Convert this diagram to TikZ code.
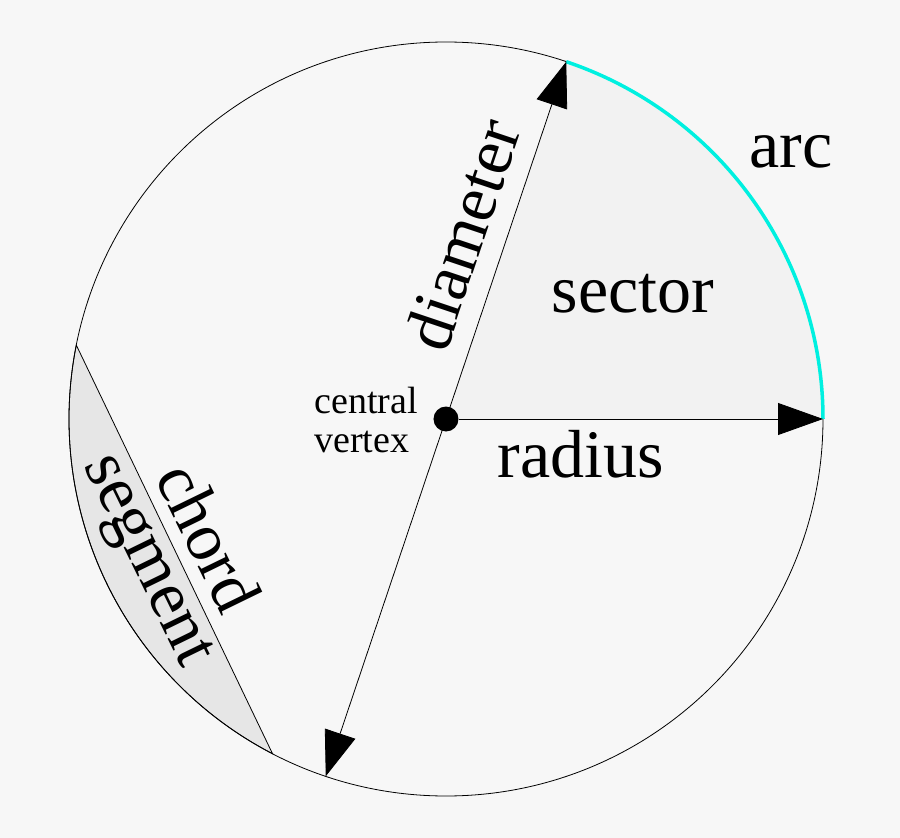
\documentclass[tikz,border=0pt]{standalone}
\usepackage{fontspec}
\setmainfont{Liberation Serif}
\usetikzlibrary{arrows.meta}
\definecolor{bggray}{HTML}{F7F7F7}
\definecolor{sectorgray}{HTML}{F2F2F2}
\definecolor{segmentgray}{HTML}{E6E6E6}
\definecolor{arccyan}{HTML}{00F0E0}
\tikzset{
    biglabel/.style={font=\fontsize{68}{80}\selectfont,inner sep=0pt},
    smalllabel/.style={font=\fontsize{38}{39}\selectfont,align=left},
    bigtip/.tip={Triangle[length=45pt,width=32pt]}
}
\begin{document}
\begin{tikzpicture}[x=1pt,y=1pt]
    \fill[bggray] (-446,-419) rectangle (454,419);
    \useasboundingbox (-446,-419) rectangle (454,419);
    \coordinate (O) at (0,0);
    \coordinate (R) at (0:377);
    \coordinate (D1) at (71.4:377);
    \coordinate (D2) at (251.4:377);
    \coordinate (C1) at (168.7:377);
    \coordinate (C2) at (242.6:377);
    \fill[sectorgray] (O) -- (R) arc[start angle=0,end angle=71.4,radius=377] -- cycle;
    \filldraw[fill=segmentgray,line width=0.8pt] (C1) arc[start angle=168.7,end angle=242.6,radius=377] -- cycle;
    \draw[line width=0.8pt] (O) circle[radius=377];
    \draw[arccyan,line width=3.5pt] (R) arc[start angle=0,end angle=71.4,radius=377];
    \node[circle,fill=black,inner sep=0pt,minimum size=25pt] (dot) at (O) {};
    \draw[line width=0.8pt,bigtip-bigtip] (D2) -- (D1);
    \draw[line width=0.8pt,-bigtip] (dot) -- (R);
    \node[biglabel] (arc) at (345,267) {arc};
    \node[biglabel] (sector) at (187,125) {sector};
    \node[biglabel] (radius) at (135,-35) {radius};
    \node[biglabel,rotate=71.4] (diameter) at (16,185) {diameter};
    \node[biglabel,rotate=-64] (chord) at (-237,-118) {chord};
    \node[biglabel,rotate=-64] (segment) at (-302,-143) {segment};
    \node[smalllabel] (vertex) at (-80,-1) {central\\vertex};
\end{tikzpicture}
\end{document}
